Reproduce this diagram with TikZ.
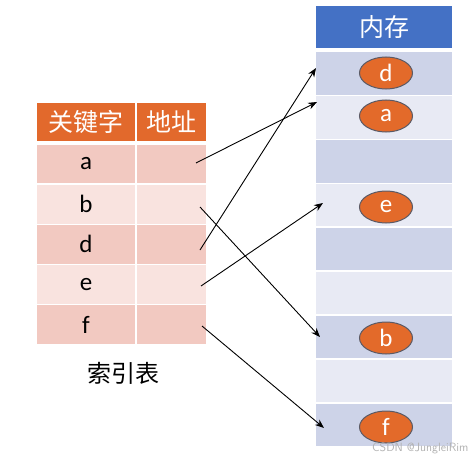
\documentclass[tikz,border=0pt]{standalone}
\usepackage{fontspec}
\setmainfont{Carlito}
\newfontfamily\cjk{Noto Sans CJK SC}
\usetikzlibrary{arrows.meta,shapes.geometric}
\definecolor{hdorange}{HTML}{E2692C}
\definecolor{pinkdark}{HTML}{F2C9C1}
\definecolor{pinklight}{HTML}{F9E3DF}
\definecolor{hdblue}{HTML}{4471C5}
\definecolor{memdark}{HTML}{CDD3E8}
\definecolor{memlight}{HTML}{E8EAF4}
\definecolor{ellfill}{HTML}{E36A2A}
\definecolor{ellline}{HTML}{5A5A66}
\tikzset{
  cellbox/.style={draw=white, line width=1.5pt, inner sep=0pt, outer sep=0pt},
  colA/.style={cellbox, minimum width=100pt},
  colB/.style={cellbox, minimum width=71pt},
  trow/.style={minimum height=40.2pt},
  memcell/.style={cellbox, minimum width=137pt, minimum height=43.9pt},
  hdtext/.style={text=white, font=\cjk\fontsize{25}{29}\selectfont},
  keytext/.style={font=\fontsize{25}{29}\selectfont},
  memitem/.style={ellipse, draw=ellline, line width=1pt, fill=ellfill, text=white,
    minimum width=53pt, minimum height=32pt, inner sep=0pt, font=\fontsize{25}{29}\selectfont},
  ptr/.style={-{Stealth[length=9pt,width=7pt]}, line width=0.9pt, black}
}
\begin{document}
\begin{tikzpicture}[x=1pt,y=-1pt]
\useasboundingbox[fill=white] (0,0) rectangle (474,460);
% index table
\node[colA, hdtext, fill=hdorange, minimum height=40pt] (hkey) at (86,122) {关键字};
\node[colB, hdtext, fill=hdorange, minimum height=40pt] (haddr) at (171.5,122) {地址};
\node[colA, trow, keytext, fill=pinkdark] (ka) at (86,164) {a};
\node[colB, trow, fill=pinkdark] (aa) at (171.5,164) {};
\node[colA, trow, keytext, fill=pinklight] (kb) at (86,204.2) {b};
\node[colB, trow, fill=pinklight] (ab) at (171.5,204.2) {};
\node[colA, trow, keytext, fill=pinkdark] (kd) at (86,244.4) {d};
\node[colB, trow, fill=pinkdark] (ad) at (171.5,244.4) {};
\node[colA, trow, keytext, fill=pinklight] (ke) at (86,284.6) {e};
\node[colB, trow, fill=pinklight] (ae) at (171.5,284.6) {};
\node[colA, trow, keytext, fill=pinkdark] (kf) at (86,324.8) {f};
\node[colB, trow, fill=pinkdark] (af) at (171.5,324.8) {};
\node[font=\cjk\fontsize{24}{28}\selectfont] (caption) at (123,373) {索引表};
% memory
\node[memcell, hdtext, fill=hdblue, minimum height=43pt] (mh) at (384,27) {内存};
\node[memcell, fill=memdark] (m1) at (384,73.5) {};
\node[memcell, fill=memlight] (m2) at (384,117.4) {};
\node[memcell, fill=memdark] (m3) at (384,161.3) {};
\node[memcell, fill=memlight] (m4) at (384,205.2) {};
\node[memcell, fill=memdark] (m5) at (384,249.1) {};
\node[memcell, fill=memlight] (m6) at (384,293.0) {};
\node[memcell, fill=memdark] (m7) at (384,336.9) {};
\node[memcell, fill=memlight] (m8) at (384,380.8) {};
\node[memcell, fill=memdark] (m9) at (384,424.7) {};
\node[memitem] (vd) at (386,73) {d};
\node[memitem] (va) at (386,116) {a};
\node[memitem] (ve) at (386,207) {e};
\node[memitem] (vb) at (386,338) {b};
\node[memitem] (vf) at (386,427) {f};
% pointer start / end points
\coordinate (sa) at (196,163);
\coordinate (sb) at (200,207);
\coordinate (sd) at (200,250);
\coordinate (se) at (201,286);
\coordinate (sf) at (202,326);
\coordinate (ea) at (317,102);
\coordinate (ed) at (316,68);
\coordinate (eb) at (320,337);
\coordinate (ee) at (323,203);
\coordinate (ef) at (324,428);
\draw[ptr] (sa) -- (ea);
\draw[ptr] (sd) -- (ed);
\draw[ptr] (sb) -- (eb);
\draw[ptr] (se) -- (ee);
\draw[ptr] (sf) -- (ef);
% watermark
\node[text=black!30, font=\sffamily\fontsize{12}{14}\selectfont, anchor=east] (wm) at (472,448) {CSDN @JungleiRim};
\end{tikzpicture}
\end{document}
